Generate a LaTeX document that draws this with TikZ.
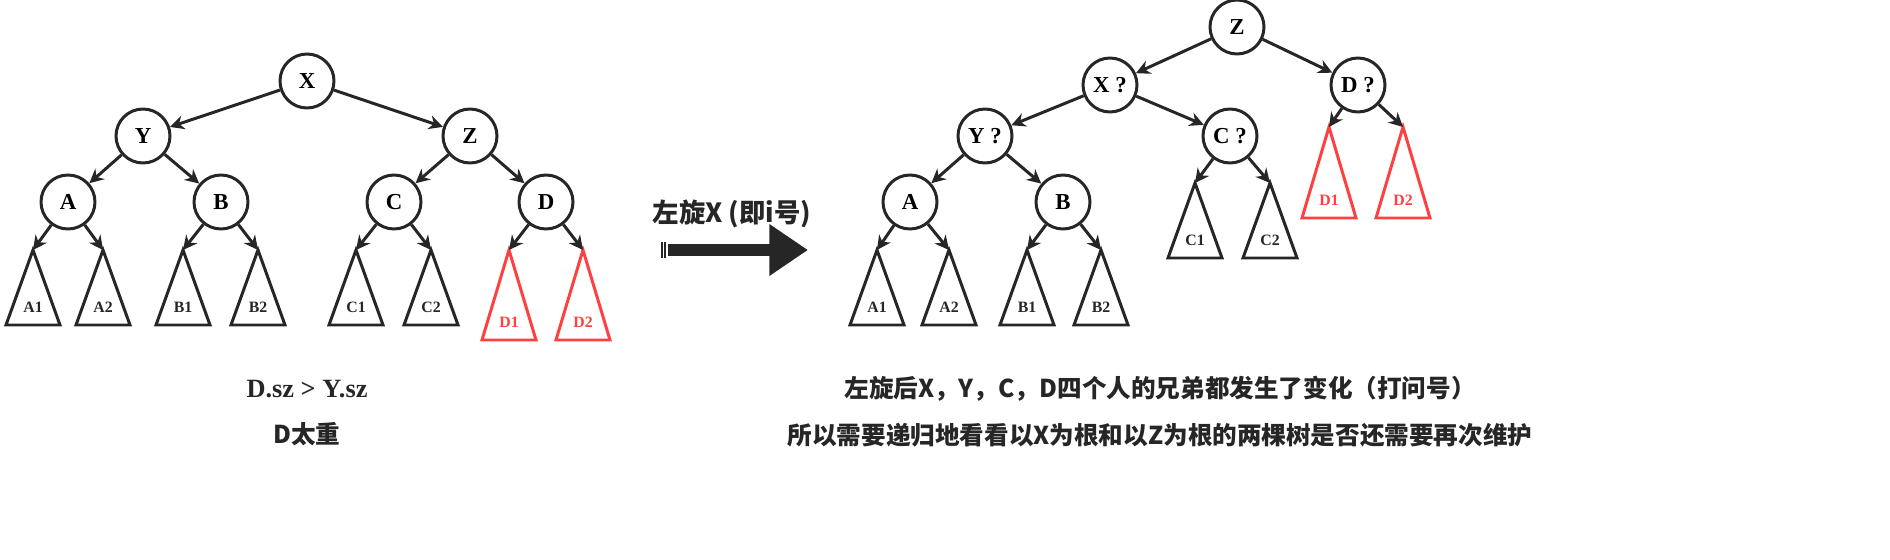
\documentclass[tikz,border=0pt]{standalone}
\usepackage{fontspec}
\setmainfont{Liberation Serif}
\newfontfamily\cjk{Noto Sans CJK SC}
\usetikzlibrary{arrows.meta}
\tikzset{
  nd/.style={circle,draw=black!85,line width=1.7pt,minimum size=1.08cm,inner sep=0pt,font=\bfseries\fontsize{13}{13}\selectfont},
  ed/.style={draw=black!85,line width=1.7pt,-{Stealth[length=8pt,width=8pt]}},
  tri/.style={draw=black!85,line width=1.7pt,line join=miter},
  redtri/.style={draw=red!75!white,line width=1.7pt,line join=miter},
  tl/.style={font=\bfseries\fontsize{9}{9}\selectfont,text=black!85},
  rtl/.style={font=\bfseries\fontsize{9}{9}\selectfont,text=red!75!white},
  captxt/.style={font=\cjk\bfseries\fontsize{14}{14}\selectfont,text=black!85}
}
\newcommand{\mytri}[6]{% name, apex x, apex y, base y, label, style
  \coordinate (#1) at (#2,#3);
  \draw[#6] (#1) -- (#2-27,#4) -- (#2+27,#4) -- cycle;
  \node[#6 l] at (#2,#4-18) {#5};}
\tikzset{tri l/.style={tl},redtri l/.style={rtl}}
\begin{document}
\begin{tikzpicture}[x=0.02cm,y=-0.02cm]
\useasboundingbox (0,0) rectangle (1890,560);
% left tree
\node[nd] (X) at (307,81) {X};
\node[nd] (Y) at (143,136) {Y};
\node[nd] (Z) at (470,136) {Z};
\node[nd] (A) at (68,202) {A};
\node[nd] (B) at (221,202) {B};
\node[nd] (C) at (394,202) {C};
\node[nd] (D) at (546,202) {D};
\mytri{a1}{33}{250}{325}{A1}{tri}
\mytri{a2}{103}{250}{325}{A2}{tri}
\mytri{b1}{183}{250}{325}{B1}{tri}
\mytri{b2}{258}{250}{325}{B2}{tri}
\mytri{c1}{356}{250}{325}{C1}{tri}
\mytri{c2}{431}{250}{325}{C2}{tri}
\mytri{d1}{509}{250}{340}{D1}{redtri}
\mytri{d2}{583}{250}{340}{D2}{redtri}
\foreach \p/\c in {X/Y,X/Z,Y/A,Y/B,Z/C,Z/D,A/a1,A/a2,B/b1,B/b2,C/c1,C/c2,D/d1,D/d2}
  \draw[ed] (\p) -- (\c);
% middle
\node[captxt,font=\cjk\fontsize{15}{15}\selectfont\bfseries] (t) at (732,214) {左旋X (即i号)};
\coordinate (s) at (668,250);
\coordinate (e) at (808,250);
\draw[black!85,line width=7pt,-{Triangle[length=22pt,width=28pt]}] (s) -- (e);
\foreach \xx in {662,665}
  \draw[black!85,line width=1pt] (\xx,242) -- (\xx,258);
% right tree
\node[nd] (Z2) at (1237,27) {Z};
\node[nd] (X2) at (1110,85) {X ?};
\node[nd] (D2n) at (1358,85) {D ?};
\node[nd] (Y2) at (985,136) {Y ?};
\node[nd] (C2n) at (1230,136) {C ?};
\node[nd] (A2n) at (910,202) {A};
\node[nd] (B2n) at (1063,202) {B};
\mytri{ra1}{877}{250}{325}{A1}{tri}
\mytri{ra2}{949}{250}{325}{A2}{tri}
\mytri{rb1}{1027}{250}{325}{B1}{tri}
\mytri{rb2}{1101}{250}{325}{B2}{tri}
\mytri{rc1}{1195}{183}{258}{C1}{tri}
\mytri{rc2}{1270}{183}{258}{C2}{tri}
\mytri{rd1}{1329}{127}{218}{D1}{redtri}
\mytri{rd2}{1403}{127}{218}{D2}{redtri}
\foreach \p/\c in {Z2/X2,Z2/D2n,X2/Y2,X2/C2n,Y2/A2n,Y2/B2n,A2n/ra1,A2n/ra2,B2n/rb1,B2n/rb2,C2n/rc1,C2n/rc2,D2n/rd1,D2n/rd2}
  \draw[ed] (\p) -- (\c);
% captions
\node[captxt,font=\bfseries\fontsize{15}{15}\selectfont] (l1) at (307,389) {D.sz > Y.sz};
\node[captxt] (l2) at (307,434) {D太重};
\node[captxt] (r1) at (1160,389) {左旋后X，Y，C，D四个人的兄弟都发生了变化（打问号）};
\node[captxt] (r2) at (1160,435) {所以需要递归地看看以X为根和以Z为根的两棵树是否还需要再次维护};
\end{tikzpicture}
\end{document}
